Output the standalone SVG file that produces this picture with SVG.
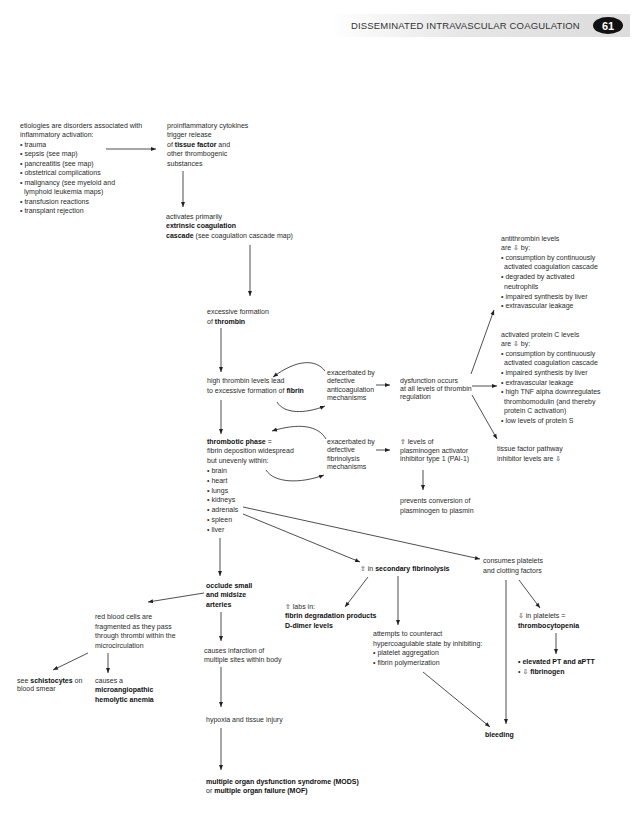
<svg xmlns="http://www.w3.org/2000/svg" width="638" height="835" viewBox="0 0 638 835">
<style>
.t{font-family:"Liberation Sans",Arial,"DejaVu Sans",sans-serif;font-size:7px;fill:#2b2b2b}
.b{font-weight:bold;fill:#111}
.c line,.c path{stroke:#222;stroke-width:0.8;fill:none}
.h{font-family:"Liberation Sans",Arial,sans-serif;font-size:9.5px;fill:#333;letter-spacing:1.3px}
</style>
<defs>
<marker id="ah" viewBox="0 0 10 10" refX="10" refY="5" markerWidth="5.5" markerHeight="5" orient="auto" markerUnits="userSpaceOnUse">
<path d="M0,1 L10,5 L0,9 z" fill="#222"/>
</marker>
<linearGradient id="hg" x1="0" x2="1" y1="0" y2="0">
<stop offset="0" stop-color="#ffffff"/>
<stop offset="0.45" stop-color="#e6e6e6"/>
<stop offset="1" stop-color="#dcdcdc"/>
</linearGradient>
</defs>
<rect width="638" height="835" fill="#ffffff"/>

<g id="header">
<rect x="330" y="14" width="300" height="23" fill="url(#hg)"/>
<text class="h" x="351" y="29" textLength="230" lengthAdjust="spacing">DISSEMINATED INTRAVASCULAR COAGULATION</text>
<ellipse cx="608" cy="25.5" rx="15" ry="8.5" fill="#111"/>
<text x="608" y="29.5" text-anchor="middle" font-family="Liberation Sans,Arial,sans-serif" font-size="11" font-weight="bold" fill="#fff">61</text>
</g>

<g id="etiologies" class="t">
<text x="20" y="127.5">etiologies are disorders associated with</text>
<text x="20" y="137">inflammatory activation:</text>
<text x="20" y="146.5">• trauma</text>
<text x="20" y="156">• sepsis (see map)</text>
<text x="20" y="165.5">• pancreatitis (see map)</text>
<text x="20" y="175">• obstetrical complications</text>
<text x="20" y="184.5">• malignancy (see myeloid and</text>
<text x="24" y="194">lymphoid leukemia maps)</text>
<text x="20" y="203.5">• transfusion reactions</text>
<text x="20" y="213">• transplant rejection</text>
</g>

<g id="cytokines" class="t">
<text x="167" y="127.5">proinflammatory cytokines</text>
<text x="167" y="137">trigger release</text>
<text x="167" y="146.5">of <tspan class="b">tissue factor</tspan> and</text>
<text x="167" y="156">other thrombogenic</text>
<text x="167" y="165.5">substances</text>
</g>

<g id="extrinsic" class="t">
<text x="166" y="218.5">activates primarily</text>
<text x="166" y="228" class="t b">extrinsic coagulation</text>
<text x="166" y="237.5"><tspan class="b">cascade</tspan> (see coagulation cascade map)</text>
</g>

<g id="thrombin" class="t">
<text x="207" y="314">excessive formation</text>
<text x="207" y="324">of <tspan class="b">thrombin</tspan></text>
</g>

<g id="fibrin" class="t">
<text x="207" y="382.5">high thrombin levels lead</text>
<text x="207" y="392.5">to excessive formation of <tspan class="b">fibrin</tspan></text>
</g>

<g id="exacerbated-anticoag" class="t">
<text x="327" y="374.5">exacerbated by</text>
<text x="327" y="383">defective</text>
<text x="327" y="391.5">anticoagulation</text>
<text x="327" y="400">mechanisms</text>
</g>

<g id="dysfunction" class="t">
<text x="400" y="382.5">dysfunction occurs</text>
<text x="400" y="390.5">at all levels of thrombin</text>
<text x="400" y="399">regulation</text>
</g>

<g id="antithrombin" class="t">
<text x="501" y="240.5">antithrombin levels</text>
<text x="501" y="250">are ⇩ by:</text>
<text x="501" y="259.7">• consumption by continuously</text>
<text x="504" y="269.4">activated coagulation cascade</text>
<text x="501" y="279.1">• degraded by activated</text>
<text x="504" y="288.8">neutrophils</text>
<text x="501" y="298.5">• impaired synthesis by liver</text>
<text x="501" y="308.2">• extravascular leakage</text>
</g>

<g id="proteinC" class="t">
<text x="501" y="336.5">activated protein C levels</text>
<text x="501" y="346.1">are ⇩ by:</text>
<text x="501" y="355.7">• consumption by continuously</text>
<text x="504" y="365.3">activated coagulation cascade</text>
<text x="501" y="374.9">• impaired synthesis by liver</text>
<text x="501" y="384.5">• extravascular leakage</text>
<text x="501" y="394.1">• high TNF alpha downregulates</text>
<text x="504" y="403.7">thrombomodulin (and thereby</text>
<text x="504" y="413.3">protein C activation)</text>
<text x="501" y="422.9">• low levels of protein S</text>
</g>

<g id="tfpi" class="t">
<text x="497" y="450.5">tissue factor pathway</text>
<text x="497" y="460.5">inhibitor levels are ⇩</text>
</g>

<g id="thrombotic" class="t">
<text x="207" y="443.5"><tspan class="b">thrombotic phase</tspan> =</text>
<text x="207" y="453.3">fibrin deposition widespread</text>
<text x="207" y="463.1">but unevenly within:</text>
<text x="207" y="472.9">• brain</text>
<text x="207" y="482.7">• heart</text>
<text x="207" y="492.5">• lungs</text>
<text x="207" y="502.3">• kidneys</text>
<text x="207" y="512.1">• adrenals</text>
<text x="207" y="521.9">• spleen</text>
<text x="207" y="531.7">• liver</text>
</g>

<g id="exacerbated-fibrinolysis" class="t">
<text x="327" y="443.5">exacerbated by</text>
<text x="327" y="452">defective</text>
<text x="327" y="460.5">fibrinolysis</text>
<text x="327" y="469">mechanisms</text>
</g>

<g id="pai1" class="t">
<text x="400" y="444">⇧ levels of</text>
<text x="400" y="452.5">plasminogen activator</text>
<text x="400" y="461">inhibitor type 1 (PAI-1)</text>
</g>

<g id="prevents" class="t">
<text x="400" y="502.5">prevents conversion of</text>
<text x="400" y="512.5">plasminogen to plasmin</text>
</g>

<g id="secondary-fibrinolysis" class="t">
<text x="360" y="571">⇧ in <tspan class="b">secondary fibrinolysis</tspan></text>
</g>

<g id="consumes" class="t">
<text x="483" y="563">consumes platelets</text>
<text x="483" y="573">and clotting factors</text>
</g>

<g id="occlude" class="t b">
<text x="206" y="587.5">occlude small</text>
<text x="206" y="597">and midsize</text>
<text x="206" y="606.5">arteries</text>
</g>

<g id="rbc" class="t">
<text x="95" y="619">red blood cells are</text>
<text x="95" y="628.5">fragmented as they pass</text>
<text x="95" y="638">through thrombi within the</text>
<text x="95" y="647.5">microcirculation</text>
</g>

<g id="schistocytes" class="t">
<text x="17" y="682.5">see <tspan class="b">schistocytes</tspan> on</text>
<text x="17" y="691">blood smear</text>
</g>

<g id="maha" class="t">
<text x="95" y="682.5">causes a</text>
<text x="95" y="692.3" class="t b">microangiopathic</text>
<text x="95" y="702" class="t b">hemolytic anemia</text>
</g>

<g id="infarction" class="t">
<text x="204" y="652.5">causes infarction of</text>
<text x="204" y="662">multiple sites within body</text>
</g>

<g id="hypoxia" class="t">
<text x="206" y="721.5">hypoxia and tissue injury</text>
</g>

<g id="mods" class="t">
<text x="206" y="783.5" class="t b">multiple organ dysfunction syndrome (MODS)</text>
<text x="206" y="792.5">or <tspan class="b">multiple organ failure (MOF)</tspan></text>
</g>

<g id="labs" class="t">
<text x="285" y="608.5">⇧ labs in:</text>
<text x="285" y="618" class="t b">fibrin degradation products</text>
<text x="285" y="627.5" class="t b">D-dimer levels</text>
</g>

<g id="attempts" class="t">
<text x="373" y="636">attempts to counteract</text>
<text x="373" y="645.7">hypercoagulable state by inhibiting:</text>
<text x="373" y="655.3">• platelet aggregation</text>
<text x="373" y="665">• fibrin polymerization</text>
</g>

<g id="thrombocytopenia" class="t">
<text x="518" y="617.5">⇩ in platelets =</text>
<text x="518" y="627.5" class="t b">thrombocytopenia</text>
</g>

<g id="labs-pt" class="t">
<text x="518" y="664"><tspan class="b">• elevated PT and aPTT</tspan></text>
<text x="518" y="674">• ⇩ <tspan class="b">fibrinogen</tspan></text>
</g>

<g id="bleeding" class="t b">
<text x="485" y="736.5">bleeding</text>
</g>

<g id="connectors" class="c">
<line x1="106" y1="149" x2="156" y2="149" marker-end="url(#ah)"/>
<line x1="183" y1="171" x2="183" y2="207" marker-end="url(#ah)"/>
<line x1="250" y1="245" x2="250" y2="296" marker-end="url(#ah)"/>
<line x1="221" y1="328" x2="221" y2="372" marker-end="url(#ah)"/>
<line x1="221" y1="400" x2="221" y2="434" marker-end="url(#ah)"/>
<path d="M325 371 C316 359,297 359,273 377" marker-end="url(#ah)"/>
<path d="M277 402 C284 414,305 414,325 406" marker-end="url(#ah)"/>
<path d="M326 439 C318 425,298 423,272 431" marker-end="url(#ah)"/>
<path d="M266 470 C274 483,300 484,324 475" marker-end="url(#ah)"/>
<line x1="376" y1="385" x2="390" y2="385" marker-end="url(#ah)"/>
<line x1="376" y1="450" x2="390" y2="450" marker-end="url(#ah)"/>
<line x1="472" y1="386" x2="497" y2="386" marker-end="url(#ah)"/>
<line x1="471" y1="374" x2="494" y2="310" marker-end="url(#ah)"/>
<line x1="472" y1="395" x2="497" y2="439" marker-end="url(#ah)"/>
<line x1="423" y1="470" x2="423" y2="490" marker-end="url(#ah)"/>
<line x1="243" y1="507" x2="480" y2="559" marker-end="url(#ah)"/>
<line x1="243" y1="514" x2="360" y2="562" marker-end="url(#ah)"/>
<line x1="220" y1="538" x2="220" y2="576" marker-end="url(#ah)"/>
<line x1="204" y1="593" x2="148" y2="602" marker-end="url(#ah)"/>
<line x1="88" y1="653" x2="53" y2="670" marker-end="url(#ah)"/>
<line x1="108" y1="653" x2="108" y2="673" marker-end="url(#ah)"/>
<line x1="221" y1="612" x2="221" y2="641" marker-end="url(#ah)"/>
<line x1="221" y1="667" x2="221" y2="707" marker-end="url(#ah)"/>
<line x1="221" y1="728" x2="221" y2="770" marker-end="url(#ah)"/>
<line x1="368" y1="577" x2="345" y2="607" marker-end="url(#ah)"/>
<line x1="398" y1="576" x2="398" y2="625" marker-end="url(#ah)"/>
<line x1="423" y1="672" x2="490" y2="727" marker-end="url(#ah)"/>
<line x1="506" y1="580" x2="506" y2="724" marker-end="url(#ah)"/>
<line x1="519" y1="580" x2="540" y2="608" marker-end="url(#ah)"/>
<line x1="556" y1="633" x2="556" y2="654" marker-end="url(#ah)"/>
</g>
</svg>
